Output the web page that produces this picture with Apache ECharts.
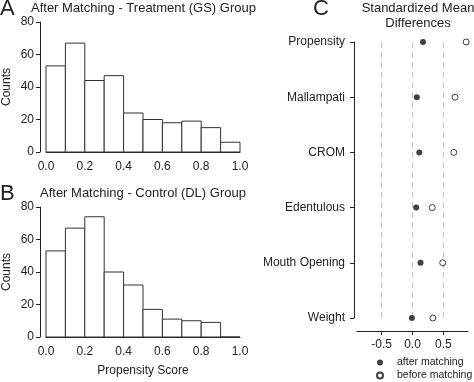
<!DOCTYPE html>
<html><head><meta charset="utf-8">
<script src="https://cdn.jsdelivr.net/npm/echarts@6/dist/echarts.min.js"></script>
<style>html,body{margin:0;padding:0;background:#fff}#c{width:474px;height:382px}</style>
</head><body><div id="c"></div>
<script>
// Histogram bins (left edges), width 0.1
const binStarts = [0.0,0.1,0.2,0.3,0.4,0.5,0.6,0.7,0.8,0.9];
const binWidth = 0.1;
const countsTreatment = [53,67,44,47,24,20,18,19,15,6];
const countsControl = [53,67,74,40,32,17,11,10,9,0];
// Standardized mean differences
const covariates = ['Propensity','Mallampati','CROM','Edentulous','Mouth Opening','Weight'];
const smdAfter = [0.17,0.07,0.11,0.06,0.13,-0.01];
const smdBefore = [0.87,0.69,0.67,0.32,0.49,0.33];
const smdTicks = [-0.5,0.0,0.5];
const refLines = [-0.5,0.0,0.5];

const FONT = "'Liberation Sans', Arial, sans-serif";
const TXT = '#222';
const chart = echarts.init(document.getElementById('c'), null, {renderer:'canvas'});

function histSeries(idx, counts){
  return {
    type:'custom', xAxisIndex:idx, yAxisIndex:idx,
    data: binStarts.map((s,i)=>[s, s+binWidth, counts[i]]),
    renderItem:function(params, api){
      const p0 = api.coord([api.value(0), api.value(2)]);
      const p1 = api.coord([api.value(1), 0]);
      return {type:'rect', shape:{x:p0[0], y:p0[1], width:p1[0]-p0[0], height:p1[1]-p0[1]},
        style:{fill:'#fff', stroke:'#333', lineWidth:1}};
    }
  };
}
function histX(idx, withName){
  const o = {type:'value', gridIndex:idx, min:0, max:1, interval:0.2,
    axisLine:{show:true, onZero:false, lineStyle:{color:'#222', width:1}},
    axisTick:{show:false}, splitLine:{show:false},
    axisLabel:{color:TXT, fontFamily:FONT, fontSize:12, margin:9, formatter:v=>v.toFixed(1)}};
  if(withName){ Object.assign(o,{name:'Propensity Score', nameLocation:'middle', nameGap:28,
    nameTextStyle:{color:TXT, fontFamily:FONT, fontSize:12}}); }
  return o;
}
function histY(idx){
  return {type:'value', gridIndex:idx, min:0, max:80, interval:20, offset:6,
    name:'Counts', nameLocation:'middle', nameGap:27, nameRotate:90,
    nameTextStyle:{color:TXT, fontFamily:FONT, fontSize:12},
    axisLine:{show:true, onZero:false, lineStyle:{color:'#222', width:1}},
    axisTick:{show:true, length:4, lineStyle:{color:'#222'}},
    splitLine:{show:false},
    axisLabel:{color:TXT, fontFamily:FONT, fontSize:12, margin:6}};
}

chart.setOption({
  backgroundColor:'#fff',
  animation:false,
  textStyle:{fontFamily:FONT},
  grid:[
    {left:46, top:22, width:194, height:130},
    {left:46, top:207, width:194, height:130},
    {left:357, top:42, width:111, height:276}
  ],
  xAxis:[
    histX(0,false), histX(1,true),
    {type:'value', gridIndex:2, min:-0.9, max:0.9, offset:13,
      axisLine:{show:true, onZero:false, lineStyle:{color:'#222', width:1}},
      axisTick:{show:true, length:4, customValues:smdTicks, lineStyle:{color:'#222'}},
      splitLine:{show:false},
      axisLabel:{color:TXT, fontFamily:FONT, fontSize:12, margin:8, customValues:smdTicks, formatter:v=>v.toFixed(1)}}
  ],
  yAxis:[
    histY(0), histY(1),
    {type:'category', gridIndex:2, data:covariates, inverse:true, boundaryGap:false, offset:3,
      axisLine:{show:true, onZero:false, lineStyle:{color:'#222', width:1}},
      axisTick:{show:true, length:4, alignWithLabel:true, lineStyle:{color:'#222'}},
      splitLine:{show:false},
      axisLabel:{color:TXT, fontFamily:FONT, fontSize:12, margin:9}}
  ],
  legend:{orient:'vertical', left:376, top:356, itemWidth:10, itemHeight:6, itemGap:0,
    padding:0,
    textStyle:{color:TXT, fontFamily:FONT, fontSize:10.5, lineHeight:13, padding:[0,0,0,7]},
    data:[{name:'after matching', icon:'circle'},{name:'before matching', icon:'circle'}]},
  graphic:[
    {type:'text', left:0, top:-2, style:{text:'A', font:'22px '+FONT, fill:TXT}},
    {type:'text', left:0, top:183, style:{text:'B', font:'22px '+FONT, fill:TXT}},
    {type:'text', left:313, top:-2, style:{text:'C', font:'22px '+FONT, fill:TXT}},
    {type:'text', left:31, top:2, style:{text:'After Matching - Treatment (GS) Group', font:'13px '+FONT, fill:TXT}},
    {type:'text', left:40, top:187, style:{text:'After Matching - Control (DL) Group', font:'13px '+FONT, fill:TXT}},
    {type:'text', x:418, y:1, style:{text:'Standardized Mean\nDifferences', font:'13px '+FONT, fill:TXT, align:'center', lineHeight:15}}
  ],
  series:[
    histSeries(0, countsTreatment),
    histSeries(1, countsControl),
    {name:'after matching', type:'scatter', xAxisIndex:2, yAxisIndex:2, symbol:'circle', symbolSize:6,
      itemStyle:{color:'#111'}, z:5,
      data: covariates.map((c,i)=>[smdAfter[i], c]),
      markLine:{silent:true, symbol:'none', label:{show:false}, z:1,
        lineStyle:{type:[6,4], color:'#c8c8c8', width:1},
        data: refLines.map(v=>({xAxis:v}))}},
    {name:'before matching', type:'scatter', xAxisIndex:2, yAxisIndex:2, symbol:'circle', symbolSize:6,
      itemStyle:{color:'#fff', borderColor:'#111', borderWidth:1}, z:5,
      data: covariates.map((c,i)=>[smdBefore[i], c])}
  ]
});
</script></body></html>
